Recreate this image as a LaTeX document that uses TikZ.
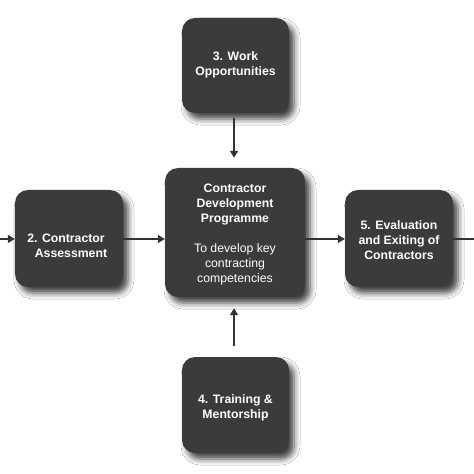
\documentclass[tikz,border=0pt]{standalone}
\usepackage{fontspec}
\setmainfont{Liberation Sans}
\usetikzlibrary{arrows.meta,shadows.blur}
\definecolor{boxgray}{HTML}{3B3B3B}
\definecolor{arrowgray}{HTML}{333333}
\begin{document}
\begin{tikzpicture}[x=1bp,y=-1bp,
  stagebox/.style={draw=none,fill=boxgray,rounded corners=13bp,
    blur shadow={shadow xshift=5bp,shadow yshift=-6bp,shadow blur radius=6bp,shadow opacity=75}},
  stagetext/.style={text=white,align=center,font=\fontsize{12.3}{15}\selectfont\bfseries},
  flow/.style={draw=arrowgray,line width=1.3bp,-{Triangle[length=7bp,width=8bp]}}]
\useasboundingbox[fill=white] (0,0) rectangle (474,474);
% boxes
\node[stagebox,minimum width=107bp,minimum height=95bp] (top) at (235.5,65.5) {};
\node[stagebox,minimum width=140bp,minimum height=129bp] (mid) at (235,232.5) {};
\node[stagebox,minimum width=108bp,minimum height=97bp] (lft) at (69,238.5) {};
\node[stagebox,minimum width=108bp,minimum height=97bp] (rgt) at (399,238.5) {};
\node[stagebox,minimum width=107bp,minimum height=96bp] (bot) at (235.5,405) {};
% texts
\node[stagetext] (toptext) at (235.5,65) {3. Work\\Opportunities};
\node[stagetext] (lfttext) at (66,246) {2. Contractor\\\hspace*{10bp}Assessment};
\node[stagetext] (rgttext) at (399,240) {5. Evaluation\\and Exiting of\\Contractors};
\node[stagetext] (bottext) at (235.5,408) {4. Training \&\\Mentorship};
\node[stagetext] (midtext) at (235,234.5) {Contractor\\Development\\Programme\\[15bp]{\mdseries To develop key}\\{\mdseries contracting}\\{\mdseries competencies}};
% connectors
\coordinate (inL) at (0,239);
\coordinate (outR) at (474,239);
\draw[flow] (inL) -- (inL -| lft.west);
\draw[flow] (lft.east |- inL) -- (inL -| mid.west);
\draw[flow] (mid.east |- inL) -- (inL -| rgt.west);
\draw[flow,-] (rgt.east |- outR) -- (outR);
\coordinate (vx) at (234,0);
\draw[flow,shorten <=5bp,shorten >=10bp] (vx |- top.south) -- (vx |- mid.north);
\draw[flow,shorten <=11bp,shorten >=11bp] (vx |- bot.north) -- (vx |- mid.south);
\end{tikzpicture}
\end{document}
